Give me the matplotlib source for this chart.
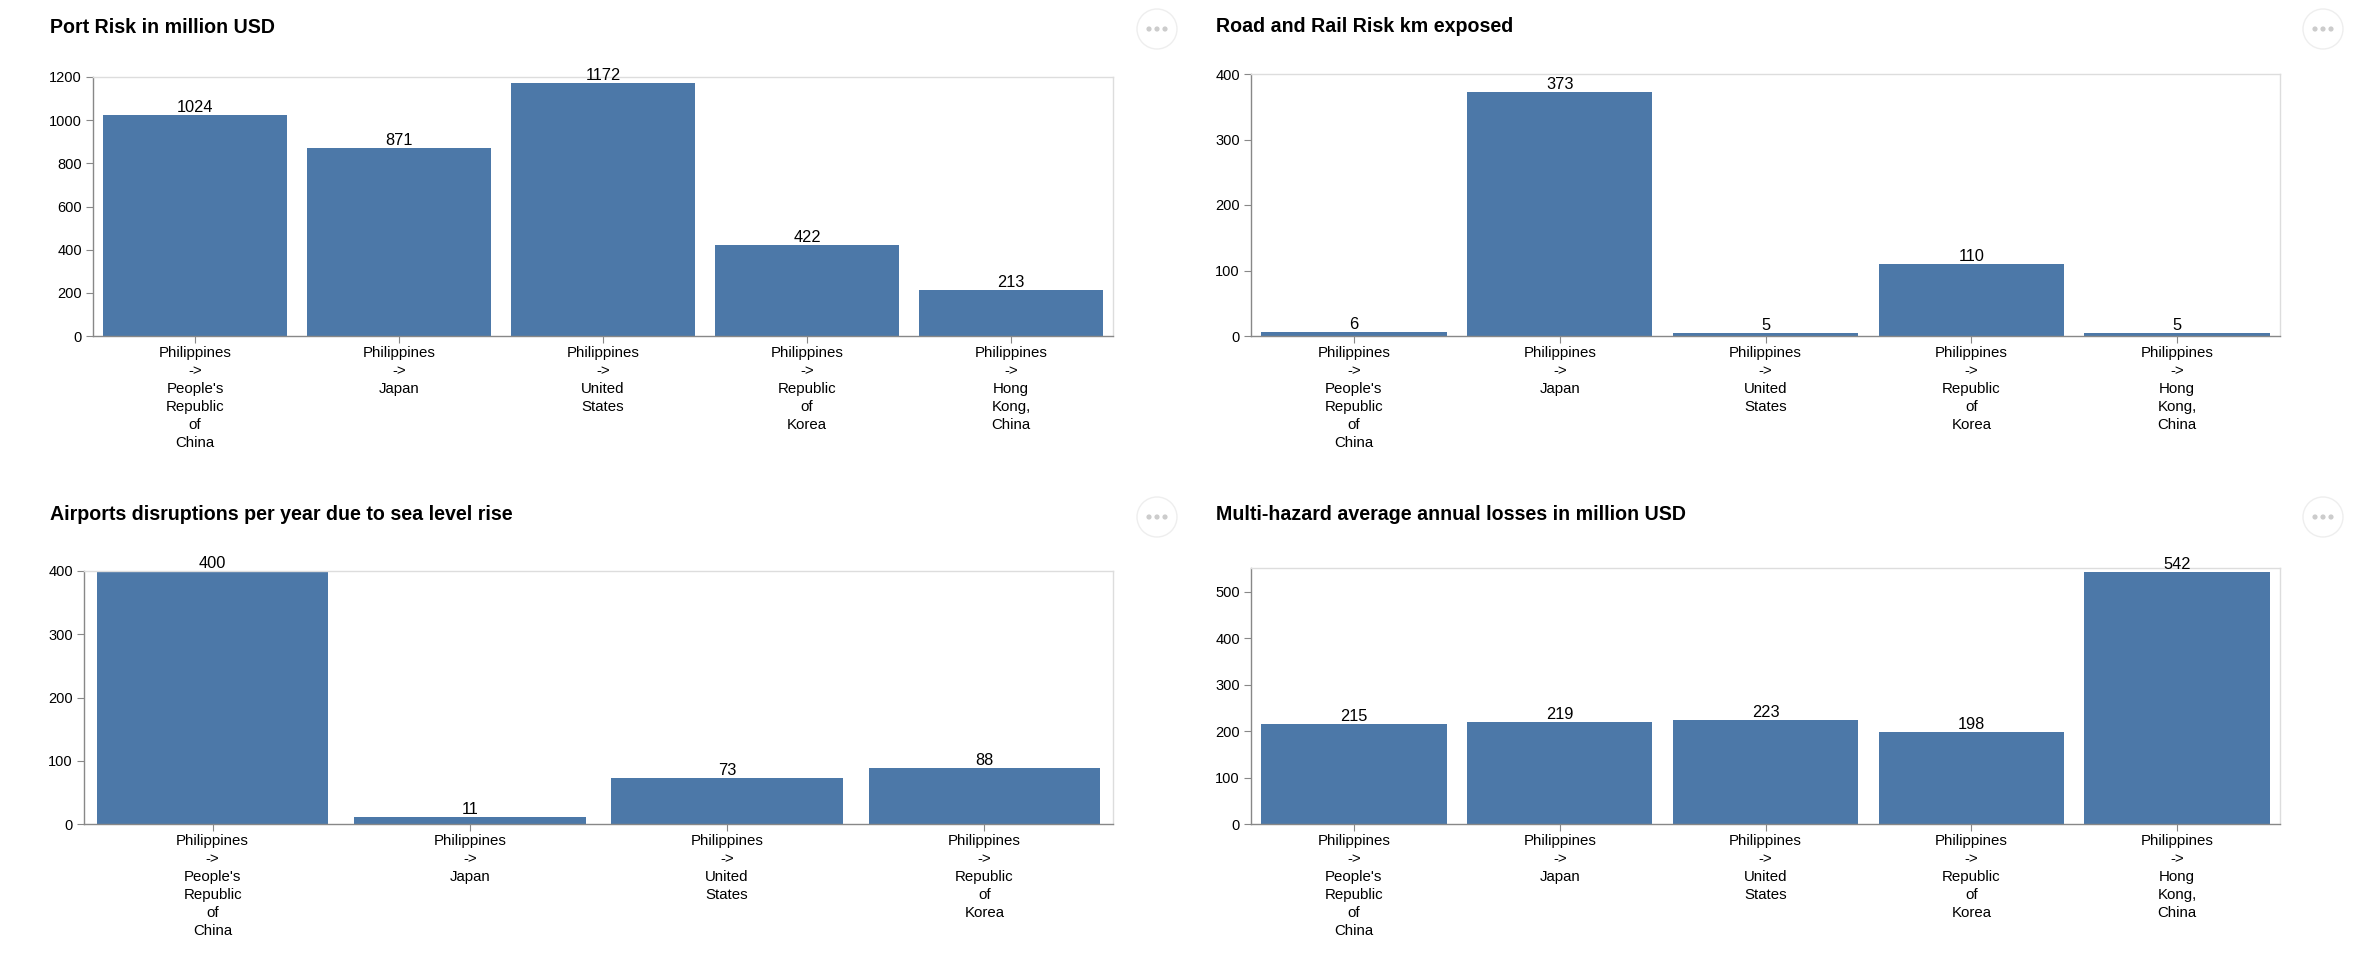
import matplotlib
matplotlib.use('Agg')
import matplotlib.pyplot as plt
from matplotlib.patches import Circle

plt.rcParams['font.family'] = ['Liberation Sans', 'DejaVu Sans']

# ---------------- data ----------------
origin = "Philippines"
dest5 = ["People's Republic of China", "Japan", "United States",
         "Republic of Korea", "Hong Kong, China"]
dest4 = ["People's Republic of China", "Japan", "United States",
         "Republic of Korea"]

port_risk = [1024, 871, 1172, 422, 213]
road_rail = [6, 373, 5, 110, 5]
airports = [400, 11, 73, 88]
multi_hazard = [215, 219, 223, 198, 542]

titles = ["Port Risk in million USD",
          "Road and Rail Risk km exposed",
          "Airports disruptions per year due to sea level rise",
          "Multi-hazard average annual losses in million USD"]

# ---------------- figure ----------------
W, H = 2373, 969
fig = plt.figure(figsize=(W / 100, H / 100), dpi=100)

BAR = '#4c78a8'
AXC = '#888888'
GRID = '#dddddd'


def px_ax(l, r, t, b):
    return fig.add_axes([l / W, 1 - b / H, (r - l) / W, (b - t) / H])


def make_label(d):
    return "\n".join((origin + " -> " + d).split(" "))


def panel(box, dests, vals, ymax, yticks, title, tpos, bpos):
    ax = px_ax(*box)
    n = len(vals)
    xs = list(range(n))
    ax.bar(xs, vals, width=0.9, color=BAR, edgecolor='none', zorder=2)
    ax.set_xlim(-0.5, n - 0.5)
    ax.set_ylim(0, ymax)
    ax.set_yticks(yticks)
    ax.set_yticklabels([str(v) for v in yticks])
    ax.set_xticks(xs)
    ax.set_xticklabels([make_label(d) for d in dests], linespacing=1.36,
                       fontsize=10.8, va='top', ha='center')
    for x, v in zip(xs, vals):
        ax.annotate(str(v), (x, v), xytext=(0, 3), textcoords='offset pixels',
                    ha='center', va='baseline', fontsize=11.8, color='black',
                    annotation_clip=False, zorder=3)
    for s in ['top', 'right']:
        ax.spines[s].set_color(GRID)
        ax.spines[s].set_linewidth(1.0)
    for s in ['left', 'bottom']:
        ax.spines[s].set_color(AXC)
        ax.spines[s].set_linewidth(1.0)
    ax.tick_params(axis='y', length=5, width=0.8, color=AXC, labelsize=10.5,
                   pad=3, labelcolor='black')
    ax.tick_params(axis='x', length=5, width=0.8, color=AXC, labelsize=10.8,
                   pad=2.5, labelcolor='black')
    fig.text(tpos[0] / W, 1 - tpos[1] / H, title, fontsize=14.1,
             fontweight='bold', ha='left', va='baseline', color='black')
    # "..." action button
    cx, cy = bpos
    circ = Circle((cx, H - cy), 20, transform=None,
                  facecolor='white', edgecolor='#eeeeee', linewidth=1.0)
    fig.patches.append(circ)
    for dx in (-8, 0, 8):
        d = Circle((cx + dx, H - cy), 2.6, transform=None,
                   facecolor='#cccccc', edgecolor='none')
        fig.patches.append(d)
    return ax


panel((93, 1113, 77, 336), dest5, port_risk, 1200,
      [0, 200, 400, 600, 800, 1000, 1200], titles[0], (50, 33), (1157, 29))
panel((1251, 2280, 74, 336), dest5, road_rail, 400,
      [0, 100, 200, 300, 400], titles[1], (1216, 32), (2323, 29))
panel((84, 1113, 571, 824), dest4, airports, 400,
      [0, 100, 200, 300, 400], titles[2], (50, 520), (1157, 517))
panel((1251, 2280, 568, 824), dest5, multi_hazard, 551,
      [0, 100, 200, 300, 400, 500], titles[3], (1216, 520), (2323, 517))

fig.savefig('out.png', dpi=100)
